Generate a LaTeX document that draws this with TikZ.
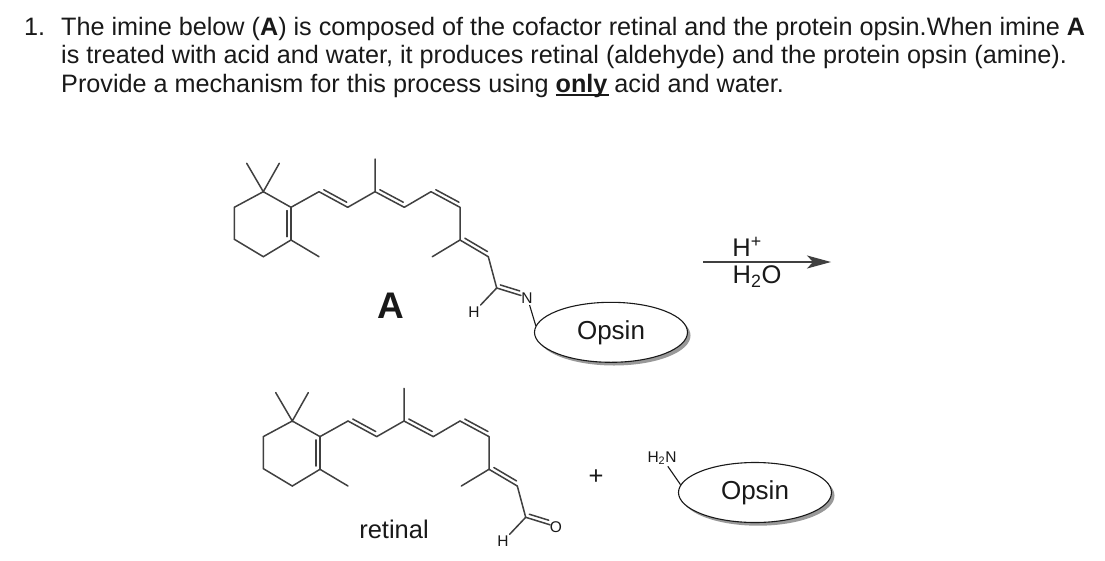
\documentclass[tikz,border=0pt]{standalone}
\usepackage{fontspec}
\setmainfont{Liberation Sans}
\usetikzlibrary{calc,arrows.meta,shapes.geometric}
\definecolor{ink}{gray}{0.10}
\definecolor{bondc}{gray}{0.25}
\tikzset{
  x=1pt,y=-1pt,
  bond/.style={draw=bondc,line width=1.5pt,line cap=round},
  thinbond/.style={draw=ink,line width=1.1pt},
  para/.style={anchor=base west,inner sep=0pt,text=ink,font=\fontsize{25.2}{28}\selectfont},
  big/.style={inner sep=0pt,text=ink,font=\fontsize{25.5}{28}\selectfont},
  atom/.style={inner sep=1.5pt,text=ink,font=\fontsize{15.5}{16}\selectfont},
  blob/.style={ellipse,draw=ink,line width=1.1pt,fill=white,minimum width=153pt,minimum height=60pt,inner sep=0pt,text=ink,font=\fontsize{26}{28}\selectfont},
  blobshade/.style={fill=black!40,draw=none},
}
% double bond: second stroke on the given side (+90 / -90)
\newcommand{\dblbond}[3]{%
  \draw[bond] (#1) -- (#2);
  \draw[bond] ($(#1)!0.10!(#2)!4pt!#3:(#2)$) -- ($(#2)!0.10!(#1)!4pt!-#3:(#1)$);
}
\newcommand{\chain}[1]{%
  \coordinate (#1gem) at (263.3,191.7);
  \coordinate (#1ma) at (246.7,163.3);
  \coordinate (#1mb) at (279.3,163.3);
  \coordinate (#1r1) at (234.3,207.3);
  \coordinate (#1r2) at (234.3,239.3);
  \coordinate (#1r3) at (263.3,256.7);
  \coordinate (#1r4) at (291,240);
  \coordinate (#1r5) at (291,207.3);
  \coordinate (#1mc) at (319,256.7);
  \coordinate (#1c1) at (319,191.7);
  \coordinate (#1c2) at (347.7,207.3);
  \coordinate (#1c3) at (375,191.7);
  \coordinate (#1md) at (375,159);
  \coordinate (#1c4) at (404.3,207.3);
  \coordinate (#1c5) at (431,191.7);
  \coordinate (#1c6) at (460,207.3);
  \coordinate (#1c7) at (460,240);
  \coordinate (#1me) at (432.3,256.7);
  \coordinate (#1c8) at (488.3,256.7);
  \coordinate (#1c9) at (496.7,288);
  \coordinate (#1x) at (521,295.5);
  \draw[bond] (#1ma) -- (#1gem) -- (#1mb);
  \draw[bond] (#1gem) -- (#1r1) -- (#1r2) -- (#1r3) -- (#1r4);
  \draw[bond] (#1r5) -- (#1gem);
  \dblbond{#1r5}{#1r4}{-90}
  \draw[bond] (#1r4) -- (#1mc);
  \draw[bond] (#1r5) -- (#1c1);
  \dblbond{#1c1}{#1c2}{90}
  \draw[bond] (#1c2) -- (#1c3) -- (#1md);
  \dblbond{#1c3}{#1c4}{90}
  \draw[bond] (#1c4) -- (#1c5);
  \dblbond{#1c5}{#1c6}{90}
  \draw[bond] (#1c6) -- (#1c7) -- (#1me);
  \dblbond{#1c7}{#1c8}{90}
  \draw[bond] (#1c8) -- (#1c9);
  \dblbond{#1c9}{#1x}{90}
}
\begin{document}
\begin{tikzpicture}
\useasboundingbox (0,0) rectangle (1105,560);
\fill[white] (0,0) rectangle (1105,560);
% question text
\node[para] (num) at (24,35) {1.};
\node[para] (l1) at (61,35) {The imine below (\textbf{A}) is composed of the cofactor retinal and the protein opsin.When imine \textbf{A}};
\node[para] (l2) at (61,63.5) {is treated with acid and water, it produces retinal (aldehyde) and the protein opsin (amine).};
\node[para] (l3) at (61,92) {Provide a mechanism for this process using \rlap{\rule[-4pt]{53pt}{1.7pt}}\textbf{only} acid and water.};
% imine A
\chain{a}
\node[atom] (aH) at (474,312) {H};
\node[atom] (aN) at (527,298) {N};
\draw[bond] (ac9) -- (aH);
\fill[blobshade] (614,335.5) ellipse [x radius=76.5,y radius=30];
\node[blob] (op1) at (611,332.3) {Opsin};
\draw[thinbond] (aN.-70) -- (op1.175);
\node[big,font=\fontsize{37}{38}\selectfont\bfseries] (lblA) at (391,306) {A};
% arrow
\coordinate (ar1) at (703,262);
\coordinate (ar2) at (831,262);
\draw[draw=bondc,line width=1.2pt,-{Stealth[length=24pt,width=13pt,inset=6pt]}] (ar1) -- (ar2);
\node[big] (hp) at (747,247) {H\textsuperscript{+}};
\node[big] (hho) at (757,277) {H\textsubscript{2}O};
% retinal
\begin{scope}[shift={(29,229.3)}]
\chain{b}
\node[atom] (bH) at (474,312) {H};
\node[atom] (bO) at (527,298) {O};
\draw[bond] (bc9) -- (bH);
\end{scope}
\node[big] (lblr) at (394,529) {retinal};
\node[big] (plus) at (596,477) {+};
\node[atom] (hn) at (662,458) {H\textsubscript{2}N};
\fill[blobshade] (758,495.7) ellipse [x radius=76.5,y radius=30];
\node[blob] (op2) at (755,492.5) {Opsin};
\draw[thinbond] (hn.-55) -- (op2.174);
\end{tikzpicture}
\end{document}
